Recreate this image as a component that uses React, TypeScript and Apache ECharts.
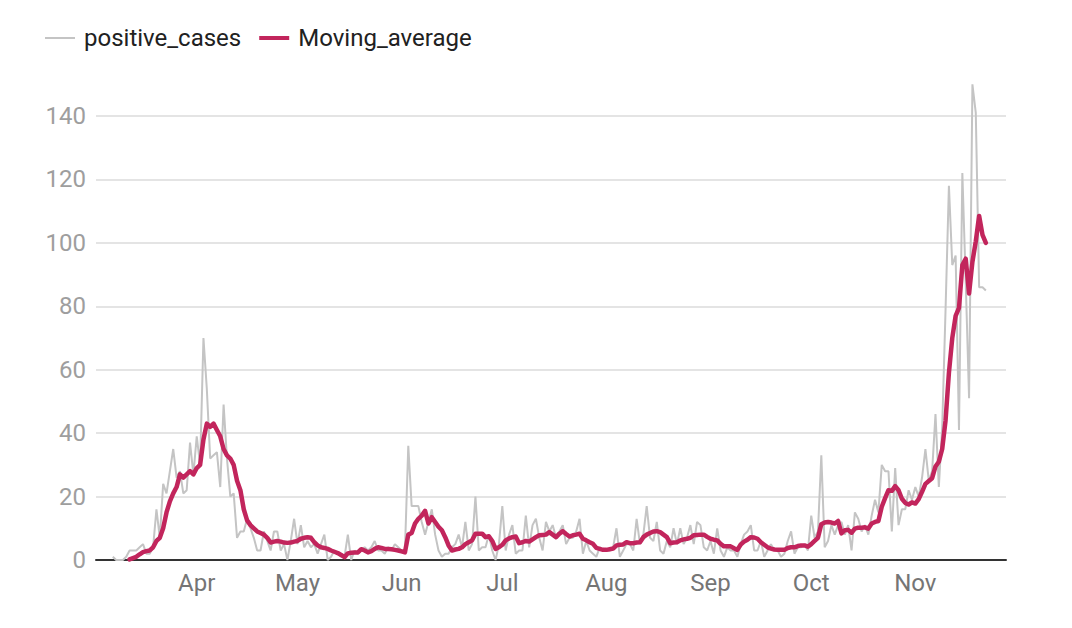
import React, { useEffect, useRef } from 'react';
import * as echarts from 'echarts';

// ---- categories (daily dates on the x axis) ----
const axisStartUTC = Date.UTC(2020, 2, 2); // 2020-03-02
const axisDayCount = 272; // through 2020-11-28
const monthLabels = ['Jan', 'Feb', 'Mar', 'Apr', 'May', 'Jun', 'Jul', 'Aug', 'Sep', 'Oct', 'Nov', 'Dec'];
const yTickValues = [0, 20, 40, 60, 80, 100, 120, 140];

// ---- positive_cases, daily from 2020-03-07 ----
const casesStart = '2020-03-07';
const casesMar = [1, 0, 0, 0, 1, 3, 3, 3, 4, 5, 2, 2, 4, 16, 7, 24, 21, 28, 35, 26, 28, 21, 22, 37, 27];
const casesApr = [39, 30, 70, 54, 32, 33, 34, 23, 49, 32, 20, 21, 7, 9, 9, 13, 10, 7, 3, 3, 9, 6, 3, 9, 9, 3, 5, 0, 6, 13];
const casesMay = [5, 11, 4, 6, 4, 5, 2, 5, 8, 0, 1, 3, 2, 1, 1, 8, 0, 3, 2, 3, 4, 3, 4, 6, 3, 3, 2, 4, 3, 5, 4];
const casesJun = [3, 3, 36, 17, 17, 17, 12, 8, 12, 16, 8, 3, 1, 2, 2, 4, 5, 8, 4, 12, 3, 5, 20, 3, 4, 4, 8, 3, 0, 5];
const casesJul = [17, 3, 8, 11, 2, 3, 3, 14, 4, 11, 13, 7, 3, 12, 9, 11, 7, 9, 11, 5, 7, 7, 9, 13, 2, 6, 3, 2, 1, 4, 3];
const casesAug = [3, 3, 4, 10, 1, 3, 5, 5, 3, 13, 5, 8, 17, 7, 6, 12, 3, 2, 6, 4, 10, 5, 10, 5, 7, 11, 5, 12, 11, 4, 3];
const casesSep = [6, 2, 10, 3, 1, 4, 3, 3, 1, 5, 8, 9, 11, 3, 3, 6, 1, 3, 5, 3, 3, 1, 2, 6, 9, 2, 4, 4, 5, 3];
const casesOct = [14, 7, 9, 33, 4, 6, 11, 8, 11, 12, 8, 11, 3, 15, 13, 9, 11, 8, 14, 19, 15, 30, 28, 28, 9, 29, 11, 16, 16, 22, 19];
const casesNov = [23, 20, 26, 35, 25, 28, 46, 23, 42, 79, 118, 93, 96, 41, 122, 88, 51, 150, 141, 86, 86, 85];

// ---- Moving_average, daily from 2020-03-12 ----
const maStart = '2020-03-12';
const maMar = [0.2, 0.6, 1, 1.8, 2.5, 2.8, 3, 4, 6, 7, 10, 15, 18.5, 21, 23, 27, 26, 27, 28, 27];
const maApr = [29, 30, 38, 43, 42, 43, 41, 39, 35, 33, 32, 30, 25, 22, 16, 12.5, 11, 10, 9, 8.5, 8, 7, 5.5, 5.8, 6, 5.8, 5.5, 5.4, 5.5, 5.8];
const maMay = [6, 6.7, 7, 7.2, 7, 5.6, 4.6, 4, 3.8, 3.5, 3, 2.6, 2.2, 1.6, 0.9, 2.1, 2.3, 2.4, 2.4, 3.4, 3, 2.4, 2.8, 3.5, 4, 3.8, 3.5, 3.5, 3.4, 3.2, 3];
const maJun = [2.7, 2.4, 8, 8.5, 11.5, 13, 14, 15.5, 11.5, 13.5, 12, 10.5, 9.4, 7.2, 4.6, 3, 3.3, 3.5, 4, 5, 5.6, 6.2, 8.3, 8.3, 8.3, 7.2, 7.5, 6, 3.5, 4];
const maJul = [4.8, 6.2, 6.8, 7.2, 7.4, 5.3, 5.6, 6, 5.8, 6.5, 7.2, 7.8, 7.9, 8, 8.8, 8, 7.2, 8.3, 9.1, 8.2, 7.4, 7.8, 8, 8.3, 6.7, 6.2, 5.6, 5.1, 3.8, 3.5, 3.2];
const maAug = [3.2, 3.4, 3.6, 4.6, 4.8, 4.9, 5.6, 5.3, 5.3, 5.5, 5.6, 7.2, 8, 8.5, 9, 9.1, 8.8, 8, 7.2, 5.3, 5.5, 5.6, 6.2, 6.5, 6.7, 7, 7.8, 7.9, 8, 8, 7.3];
const maSep = [6.7, 6.4, 6.2, 5.1, 4.3, 4.3, 4.3, 3.7, 3.2, 4.9, 5.8, 6.4, 7.2, 7.1, 6.7, 5.6, 4.8, 4, 3.6, 3.3, 3.2, 3.2, 3.2, 3.8, 4, 4, 4.4, 4.6, 4.6, 4.2];
const maOct = [5, 6, 7, 11.3, 11.8, 12, 11.8, 11.5, 12.3, 8.4, 9.4, 9.5, 8.6, 9.9, 10.2, 10.2, 10.3, 9.9, 11.5, 12, 12.3, 16.8, 19.5, 22, 21.8, 23.3, 22, 19.3, 18, 17.5, 18.2];
const maNov = [17.8, 19.2, 21.5, 24, 24.9, 25.8, 29.5, 31, 35, 44, 59, 70, 77, 79.5, 93, 95, 84, 94, 100.5, 108.5, 102.5, 100];

const DAY = 86400000;

function buildDates(): string[] {
  const out: string[] = [];
  for (let i = 0; i < axisDayCount; i++) {
    out.push(new Date(axisStartUTC + i * DAY).toISOString().slice(0, 10));
  }
  return out;
}

function alignToAxis(dates: string[], start: string, values: number[]): (number | null)[] {
  const offset = dates.indexOf(start);
  return dates.map((_, i) => {
    const k = i - offset;
    return k >= 0 && k < values.length ? values[k] : null;
  });
}

export default function App() {
  const ref = useRef<HTMLDivElement>(null);

  useEffect(() => {
    if (!ref.current) return;
    const chart = echarts.init(ref.current, null, { renderer: 'svg' });
    const dates = buildDates();
    const cases = [...casesMar, ...casesApr, ...casesMay, ...casesJun, ...casesJul, ...casesAug, ...casesSep, ...casesOct, ...casesNov];
    const ma = [...maMar, ...maApr, ...maMay, ...maJun, ...maJul, ...maAug, ...maSep, ...maOct, ...maNov];
    const casesData = alignToAxis(dates, casesStart, cases);
    const maData = alignToAxis(dates, maStart, ma);
    const font = 'Roboto';

    chart.setOption({
      animation: false,
      backgroundColor: '#ffffff',
      textStyle: { fontFamily: font },
      legend: {
        left: 40,
        top: 21,
        itemWidth: 30,
        itemHeight: 24,
        itemGap: 18,
        symbolKeepAspect: true,
        data: [
          { name: 'positive_cases', icon: 'path://M0,0H30V2H0Z' },
          { name: 'Moving_average', icon: 'path://M0,0H30V4H0Z' },
        ],
        textStyle: { fontFamily: font, fontSize: 24, color: '#212121', padding: [0, 0, 0, 4] },
      },
      grid: { left: 96, right: 66, top: 116, bottom: 68 },
      xAxis: {
        type: 'category',
        data: dates,
        boundaryGap: false,
        axisLine: { lineStyle: { color: '#333333', width: 2 } },
        axisTick: { show: false },
        splitLine: { show: false },
        axisLabel: {
          interval: (_i: number, v: string) => v.endsWith('-01'),
          formatter: (v: string) => monthLabels[parseInt(v.slice(5, 7), 10) - 1],
          color: '#757575',
          fontSize: 24,
          fontFamily: font,
          margin: 11,
        },
      },
      yAxis: {
        type: 'value',
        min: yTickValues[0],
        max: yTickValues[yTickValues.length - 1],
        interval: yTickValues[1] - yTickValues[0],
        axisLine: { show: false },
        axisTick: { show: false },
        axisLabel: { color: '#9e9e9e', fontSize: 24, fontFamily: font, margin: 10 },
        splitLine: { lineStyle: { color: '#e4e4e4', width: 2 } },
      },
      series: [
        {
          name: 'positive_cases',
          type: 'line',
          data: casesData,
          symbol: 'none',
          showSymbol: false,
          clip: false,
          z: 2,
          itemStyle: { color: '#c4c4c4' },
          lineStyle: { color: '#c4c4c4', width: 2 },
        },
        {
          name: 'Moving_average',
          type: 'line',
          data: maData,
          symbol: 'none',
          showSymbol: false,
          clip: false,
          z: 3,
          itemStyle: { color: '#c2255c' },
          lineStyle: { color: '#c2255c', width: 4.5, join: 'round', cap: 'round' },
        },
      ],
    });

    return () => chart.dispose();
  }, []);

  return (
    <div
      ref={ref}
      style={{ position: 'fixed', left: 0, top: 0, width: 1072, height: 628, background: '#ffffff' }}
    />
  );
}
